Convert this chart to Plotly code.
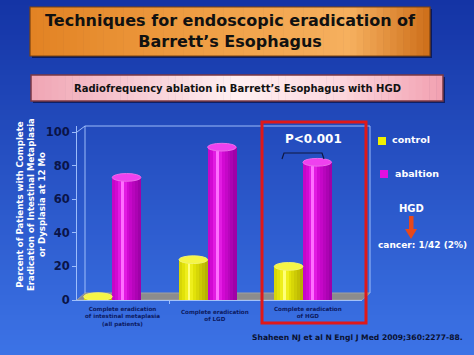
import plotly.graph_objects as go

# ---------------- data ----------------
categories = [
    "Complete eradication<br>of intestinal metaplasia<br>(all patients)",
    "Complete eradication<br>of LGD",
    "Complete eradication<br>of HGD",
]
control = [2, 24, 20]
ablation = [73, 91, 82]
series_names = ["control", "abaltion"]
y_ticks = [0, 20, 40, 60, 80, 100]
title_text = "Techniques for endoscopic eradication of<br>Barrett\u2019s Esophagus"
subtitle_text = "Radiofrequency ablation in Barrett\u2019s Esophagus with HGD"
p_text = "P<0.001"
note_top = "HGD"
note_bottom = "cancer: 1/42 (2%)"
citation = "Shaheen NJ et al N Engl J Med 2009;360:2277-88."
y_title = "Percent of Patients with Complete<br>Eradication of Intestinal Metaplasia<br>or Dysplasia at 12 Mo"

# ---------------- helpers ----------------
W, H = 474, 355
FONT = "DejaVu Sans"


def px(x):
    return x / W


def py(y):
    return 1 - y / H


def lerp(c1, c2, t):
    return tuple(int(round(a + (b - a) * t)) for a, b in zip(c1, c2))


def rgb(c):
    return "rgb(%d,%d,%d)" % c


xpos = list(range(len(categories)))
BAR_W = 0.3
N_STRIPS = 10

fig = go.Figure()


def cyl_color(edge, mid, hi, t):
    d = abs(t - 0.35)
    if d < 0.12:
        return lerp(hi, mid, d / 0.12)
    return lerp(mid, edge, min(1.0, (d - 0.12) / 0.55))


series = [
    (control, -BAR_W, (175, 170, 0), (235, 235, 10), (255, 255, 120)),
    (ablation, 0.0, (150, 0, 160), (220, 10, 220), (255, 110, 255)),
]

for (vals, base_off, edge, mid, hi) in series:
    for j in range(N_STRIPS):
        t = (j + 0.5) / N_STRIPS
        fig.add_trace(go.Bar(
            x=xpos, y=vals,
            width=[BAR_W / N_STRIPS + 0.004] * len(xpos),
            offset=[base_off + j * BAR_W / N_STRIPS] * len(xpos),
            marker=dict(color=rgb(cyl_color(edge, mid, hi, t)), line=dict(width=0)),
            showlegend=False, hoverinfo="skip",
        ))

shapes = []

# background gradient
n_bg = 71
top_c, bot_c = (20, 52, 165), (60, 115, 230)
for i in range(n_bg):
    y0 = H * i / n_bg
    y1 = H * (i + 1) / n_bg + 0.5
    shapes.append(dict(type="rect", xref="paper", yref="paper",
                       x0=0, x1=1, y0=py(min(y1, H)), y1=py(y0),
                       fillcolor=rgb(lerp(top_c, bot_c, i / (n_bg - 1))),
                       line=dict(width=0), layer="below"))

# 3D back wall + floor
wall_col = "rgba(170,200,255,0.9)"
shapes.append(dict(type="path", xref="paper", yref="paper",
                   path="M %f %f L %f %f L %f %f L %f %f Z" % (
                       px(77), py(300), px(362), py(300), px(370), py(293), px(85), py(293)),
                   fillcolor="#8c8c8c", line=dict(color="#a0a0a0", width=1), layer="below"))
shapes.append(dict(type="path", xref="paper", yref="paper",
                   path="M %f %f L %f %f L %f %f L %f %f" % (
                       px(85), py(293), px(85), py(126), px(370), py(126), px(370), py(293)),
                   line=dict(color=wall_col, width=1), layer="below"))
shapes.append(dict(type="line", xref="paper", yref="paper",
                   x0=px(77), y0=py(132), x1=px(85), y1=py(126),
                   line=dict(color=wall_col, width=1), layer="below"))

# cylinder tops (from data)
for (vals, base_off, edge, mid, hi) in series:
    for x, v in zip(xpos, vals):
        shapes.append(dict(type="circle", xref="x", yref="y",
                           x0=x + base_off, x1=x + base_off + BAR_W,
                           y0=v - 2.3, y1=v + 2.3,
                           fillcolor=rgb(lerp(mid, hi, 0.55)),
                           line=dict(color=rgb(lerp(mid, (255, 255, 255), 0.4)), width=1)))


def grad_box(x0, y0, x1, y1, stops, n, border, bw, shadow=True):
    out = []
    if shadow:
        out.append(dict(type="rect", xref="paper", yref="paper",
                        x0=px(x0 + 2), x1=px(x1 + 2), y0=py(y1 + 2), y1=py(y0 + 2),
                        fillcolor="rgba(0,0,30,0.55)", line=dict(width=0)))
    for i in range(n):
        t = (i + 0.5) / n
        c = stops[-1][1]
        for k in range(len(stops) - 1):
            if stops[k][0] <= t <= stops[k + 1][0]:
                tt = (t - stops[k][0]) / (stops[k + 1][0] - stops[k][0])
                c = lerp(stops[k][1], stops[k + 1][1], tt)
                break
        xa = x0 + (x1 - x0) * i / n
        xb = x0 + (x1 - x0) * (i + 1) / n + 0.6
        out.append(dict(type="rect", xref="paper", yref="paper",
                        x0=px(xa), x1=px(min(xb, x1)), y0=py(y1), y1=py(y0),
                        fillcolor=rgb(c), line=dict(width=0)))
    out.append(dict(type="rect", xref="paper", yref="paper",
                    x0=px(x0), x1=px(x1), y0=py(y1), y1=py(y0),
                    line=dict(color=border, width=bw)))
    return out


shapes += grad_box(30, 7, 430, 56,
                   [(0, (226, 130, 35)), (0.45, (240, 160, 70)), (0.8, (246, 176, 95)), (1, (205, 110, 25))],
                   60, "#7a4210", 1.2)
shapes += grad_box(31, 75, 443, 101,
                   [(0, (240, 165, 180)), (0.5, (255, 240, 242)), (0.75, (252, 215, 222)), (1, (242, 160, 176))],
                   60, "#7a3844", 1.5)

# red highlight box
shapes.append(dict(type="rect", xref="paper", yref="paper",
                   x0=px(262), x1=px(366), y0=py(323), y1=py(122),
                   line=dict(color="#e01818", width=3)))
# bracket
shapes.append(dict(type="path", xref="paper", yref="paper",
                   path="M %f %f L %f %f L %f %f L %f %f" % (
                       px(282), py(159), px(284), py(153), px(322), py(153), px(324), py(159)),
                   line=dict(color="#101840", width=1.2)))
# legend squares
shapes.append(dict(type="rect", xref="paper", yref="paper",
                   x0=px(378), x1=px(386), y0=py(145), y1=py(137),
                   fillcolor="#f0f000", line=dict(width=0)))
shapes.append(dict(type="rect", xref="paper", yref="paper",
                   x0=px(380), x1=px(388), y0=py(178), y1=py(170),
                   fillcolor="#e010e0", line=dict(width=0)))
# arrow
shapes.append(dict(type="path", xref="paper", yref="paper",
                   path="M %f %f L %f %f L %f %f L %f %f L %f %f L %f %f L %f %f Z" % (
                       px(409), py(216), px(413.5), py(216), px(413.5), py(229),
                       px(417), py(229), px(411), py(239), px(405), py(229), px(409), py(229)),
                   fillcolor="#e8481a", line=dict(width=0)))


def ann(x, y, text, size, color, xanchor="center", yanchor="middle", **kw):
    d = dict(xref="paper", yref="paper", x=px(x), y=py(y), text=text, showarrow=False,
             xanchor=xanchor, yanchor=yanchor,
             font=dict(family=FONT, size=size, color=color))
    d.update(kw)
    return d


annotations = [
    ann(230, 31.5, "<b>" + title_text + "</b>", 16, "#111111"),
    ann(237, 88, "<b>" + subtitle_text + "</b>", 10, "#111111"),
    ann(31, 205, "<b>" + y_title + "</b>", 8.6, "white", textangle=-90),
    ann(313, 139, "<b>" + p_text + "</b>", 12, "white"),
    ann(390, 140, "<b>" + series_names[0] + "</b>", 9.5, "white", xanchor="left"),
    ann(393, 173, "<b>" + series_names[1] + "</b>", 9.5, "white", xanchor="left"),
    ann(411, 208, "<b>" + note_top + "</b>", 10, "white"),
    ann(422.5, 245, "<b>" + note_bottom + "</b>", 9, "white"),
    ann(357, 337, "<b>" + citation + "</b>", 7.6, "#0a1030"),
]
label_dx = [0.11, 0.08, 0.05]
label_y = [304, 307, 304]
for i, c in enumerate(categories):
    annotations.append(dict(xref="x", yref="paper", x=xpos[i] + label_dx[i], y=py(label_y[i]),
                            xanchor="center", yanchor="top", text="<b>" + c + "</b>", showarrow=False,
                            font=dict(family=FONT, size=5.6, color="#0c1a60")))

fig.update_layout(
    width=W, height=H,
    margin=dict(l=0, r=0, t=0, b=0, autoexpand=False),
    paper_bgcolor="#1a40b0", plot_bgcolor="rgba(0,0,0,0)",
    barmode="overlay", bargap=0,
    showlegend=False,
    shapes=shapes, annotations=annotations,
    xaxis=dict(domain=[px(77), px(362)], range=[-0.37, 2.62], automargin=False,
               tickvals=[0.6, 1.57], ticktext=["", ""], ticks="outside", ticklen=3,
               tickcolor=wall_col,
               showline=True, linecolor=wall_col, linewidth=1,
               showgrid=False, zeroline=False, fixedrange=True),
    yaxis=dict(domain=[py(300), py(126)], range=[0, 103.6], automargin=False,
               tickvals=y_ticks, ticks="outside", ticklen=4,
               tickcolor=wall_col,
               tickfont=dict(family=FONT, size=11.5, color="#0a1448", weight="bold"),
               showline=True, linecolor=wall_col, linewidth=1,
               showgrid=False, zeroline=False, fixedrange=True),
)

fig.write_html("out.html")
